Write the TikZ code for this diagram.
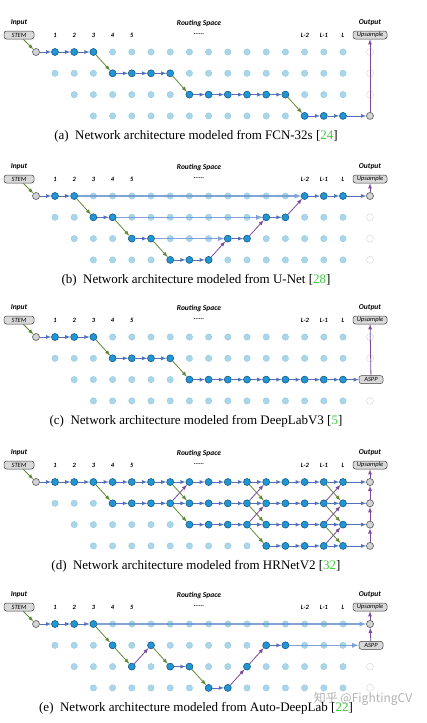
\documentclass[tikz,border=0pt]{standalone}
\usepackage{fontspec}
\setmainfont{Liberation Serif}
\newfontfamily\labelfont{Carlito}
\newfontfamily\cjkfont{Noto Sans CJK SC}
\usetikzlibrary{arrows,positioning}
\definecolor{actfill}{HTML}{2196D3}
\definecolor{actline}{HTML}{1A5E8A}
\definecolor{idlefill}{HTML}{AAD6EA}
\definecolor{idleline}{HTML}{93C6DE}
\definecolor{flowcol}{HTML}{5470B8}
\definecolor{downcol}{HTML}{5E8A35}
\definecolor{upcol}{HTML}{7A4B9C}
\definecolor{skipcol}{HTML}{6C95CF}
\definecolor{citegreen}{HTML}{3DCB3D}

\begin{document}
\begin{tikzpicture}[x=1pt,y=-1pt,
		act/.style={circle,draw=actline,fill=actfill,line width=0.6pt,inner sep=0mm,minimum size=7pt},
		idle/.style={circle,draw=idleline,fill=idlefill,line width=0.4pt,inner sep=0mm,minimum size=6.3pt},
		outon/.style={circle,draw=black!65,fill=black!17,line width=0.6pt,inner sep=0mm,minimum size=7pt},
		outoff/.style={circle,draw=black!15,fill=white,line width=0.5pt,inner sep=0mm,minimum size=7pt},
		box/.style={rectangle,rounded corners=2.5pt,draw=black!75,fill=black!15,line width=0.5pt,inner sep=1pt,minimum height=8pt,font=\labelfont\itshape\fontsize{6.5}{7}\selectfont},
		head/.style={font=\labelfont\bfseries\itshape\fontsize{7.5}{8}\selectfont},
		num/.style={font=\labelfont\bfseries\itshape\fontsize{6.5}{7}\selectfont},
		captext/.style={font=\fontsize{13}{15}\selectfont},
		flow/.style={-latex,draw=flowcol,line width=0.8pt},
		down/.style={-latex,draw=downcol,line width=0.8pt},
		up/.style={-latex,draw=upcol,line width=0.8pt},
		skip/.style={-latex,draw=skipcol,line width=1.3pt,opacity=0.85}]

	\useasboundingbox (0,0) rectangle (426,723);

	% the same frame in every panel
	\foreach \p/\y/\n/\k in {a/52/FCN-32s/24,b/196/U-Net/28,c/337/DeepLabV3/5,d/482/HRNetV2/32,e/624/Auto-DeepLab/22} {
		\node[head] (\p-in) at (19,\y-29) {Input};
		\node[box,minimum width=30pt] (\p-stem) at (19,\y-17) {STEM};
		\node[outon] (\p-s) at (36,\y) {};
		\node[head] (\p-rs) at (199,\y-29) {Routing Space};
		\node[head] (\p-out) at (370,\y-29) {Output};
		\node[box,minimum width=34pt] (\p-up) at (370,\y-17) {Upsample};
		\foreach \c in {1,...,5}
			\node[num] (\p-l\c) at ({55+(\c-1)*19.2},\y-17) {\c};
		\node[num] (\p-dots) at (199,\y-18) {......};
		\node[num] (\p-lL2) at (305,\y-17) {L-2};
		\node[num] (\p-lL1) at (324,\y-17) {L-1};
		\node[num] (\p-lL) at (343,\y-17) {L};
		\foreach \r in {0,...,3} {
			\pgfmathtruncatemacro\s{max(1,\r)}
			\foreach \c in {\s,...,16}
				\node[idle] (\p-\r-\c) at ({55+(\c-1)*19.2},{\y+\r*21.3}) {};
			\node[outoff] (\p-o\r) at (370,{\y+\r*21.3}) {};
		}
		\draw[down] (\p-stem) -- (\p-s);
		\node[captext] (\p-cap) at (196,\y+84) {(\p)~~Network architecture modeled from \n\ [\textcolor{citegreen}{\k}]};
	}

	% (a) FCN-32s
	\foreach \u in {0-1,0-2,0-3,1-4,1-5,1-6,1-7,2-8,2-9,2-10,2-11,2-12,2-13,3-14,3-15,3-16}
		\node[act] (a-\u) at (a-\u) {};
	\node[outon] (a-o3) at (a-o3) {};
	\draw[flow] (a-s) -- (a-0-1);
	\foreach \u/\v in {0-1/0-2,0-2/0-3,1-4/1-5,1-5/1-6,1-6/1-7,2-8/2-9,2-9/2-10,2-10/2-11,2-11/2-12,2-12/2-13,3-14/3-15,3-15/3-16,3-16/o3}
		\draw[flow] (a-\u) -- (a-\v);
	\foreach \u/\v in {0-3/1-4,1-7/2-8,2-13/3-14}
		\draw[down] (a-\u) -- (a-\v);
	\draw[up] (a-o3) -- (a-up);

	% (b) U-Net
	\foreach \u/\v in {0-2/0-14,1-4/1-12,2-6/2-10}
		\draw[skip] (b-\u) -- (b-\v);
	\foreach \u in {0-1,0-2,1-3,1-4,2-5,2-6,3-7,3-8,3-9,2-10,2-11,1-12,1-13,0-14,0-15,0-16}
		\node[act] (b-\u) at (b-\u) {};
	\node[outon] (b-o0) at (b-o0) {};
	\draw[flow] (b-s) -- (b-0-1);
	\foreach \u/\v in {0-1/0-2,1-3/1-4,2-5/2-6,3-7/3-8,3-8/3-9,2-10/2-11,1-12/1-13,0-14/0-15,0-15/0-16,0-16/o0}
		\draw[flow] (b-\u) -- (b-\v);
	\foreach \u/\v in {0-2/1-3,1-4/2-5,2-6/3-7}
		\draw[down] (b-\u) -- (b-\v);
	\foreach \u/\v in {3-9/2-10,2-11/1-12,1-13/0-14}
		\draw[up] (b-\u) -- (b-\v);
	\draw[up] (b-o0) -- (b-up);

	% (c) DeepLabV3
	\foreach \u in {0-1,0-2,0-3,1-4,1-5,1-6,1-7,2-8,2-9,2-10,2-11,2-12,2-13,2-14,2-15,2-16}
		\node[act] (c-\u) at (c-\u) {};
	\node[box,minimum width=24pt] (c-aspp) at (371,{337+2*21.3}) {ASPP};
	\draw[flow] (c-s) -- (c-0-1);
	\foreach \u/\v in {0-1/0-2,0-2/0-3,1-4/1-5,1-5/1-6,1-6/1-7,2-8/2-9,2-9/2-10,2-10/2-11,2-11/2-12,2-12/2-13,2-13/2-14,2-14/2-15,2-15/2-16}
		\draw[flow] (c-\u) -- (c-\v);
	\draw[flow] (c-2-16) -- (c-aspp);
	\foreach \u/\v in {0-3/1-4,1-7/2-8}
		\draw[down] (c-\u) -- (c-\v);
	\draw[up] (c-aspp) -- (c-up);

	% (d) HRNetV2
	\foreach \r/\s in {0/1,1/4,2/8,3/12} {
		\foreach \c in {\s,...,16}
			\node[act] (d-\r-\c) at (d-\r-\c) {};
		\node[outon] (d-o\r) at (d-o\r) {};
	}
	\draw[flow] (d-s) -- (d-0-1);
	\foreach \r/\s in {0/1,1/4,2/8,3/12} {
		\foreach \c [evaluate=\c as \n using int(\c+1)] in {\s,...,15}
			\draw[flow] (d-\r-\c) -- (d-\r-\n);
		\draw[flow] (d-\r-16) -- (d-o\r);
	}
	\foreach \u/\v in {0-3/1-4,0-7/1-8,1-7/2-8,0-11/1-12,1-11/2-12,2-11/3-12,0-15/1-16,1-15/2-16,2-15/3-16}
		\draw[down] (d-\u) -- (d-\v);
	\foreach \u/\v in {1-7/0-8,1-11/0-12,2-11/1-12,1-15/0-16,2-15/1-16,3-15/2-16,o3/o2,o2/o1,o1/o0,o0/up}
		\draw[up] (d-\u) -- (d-\v);

	% (e) Auto-DeepLab
	\node[box,minimum width=24pt] (e-aspp) at (371,{624+21.3}) {ASPP};
	\draw[skip] (e-0-3) -- (e-o0);
	\draw[skip] (e-1-13) -- (e-aspp);
	\foreach \u in {0-1,0-2,0-3,1-4,2-5,1-6,2-7,2-8,3-9,3-10,2-11,1-12,1-13}
		\node[act] (e-\u) at (e-\u) {};
	\node[outon] (e-o0) at (e-o0) {};
	\draw[flow] (e-s) -- (e-0-1);
	\foreach \u/\v in {0-1/0-2,0-2/0-3,2-7/2-8,3-9/3-10,1-12/1-13}
		\draw[flow] (e-\u) -- (e-\v);
	\foreach \u/\v in {0-3/1-4,1-4/2-5,1-6/2-7,2-8/3-9}
		\draw[down] (e-\u) -- (e-\v);
	\foreach \u/\v in {2-5/1-6,3-10/2-11,2-11/1-12}
		\draw[up] (e-\u) -- (e-\v);
	\draw[up] (e-aspp) -- (e-o0);
	\draw[up] (e-o0) -- (e-up);

	\node[text=black!30,font=\cjkfont\fontsize{12}{13}\selectfont] (mark) at (363,699) {知乎 @FightingCV};
\end{tikzpicture}
\end{document}
